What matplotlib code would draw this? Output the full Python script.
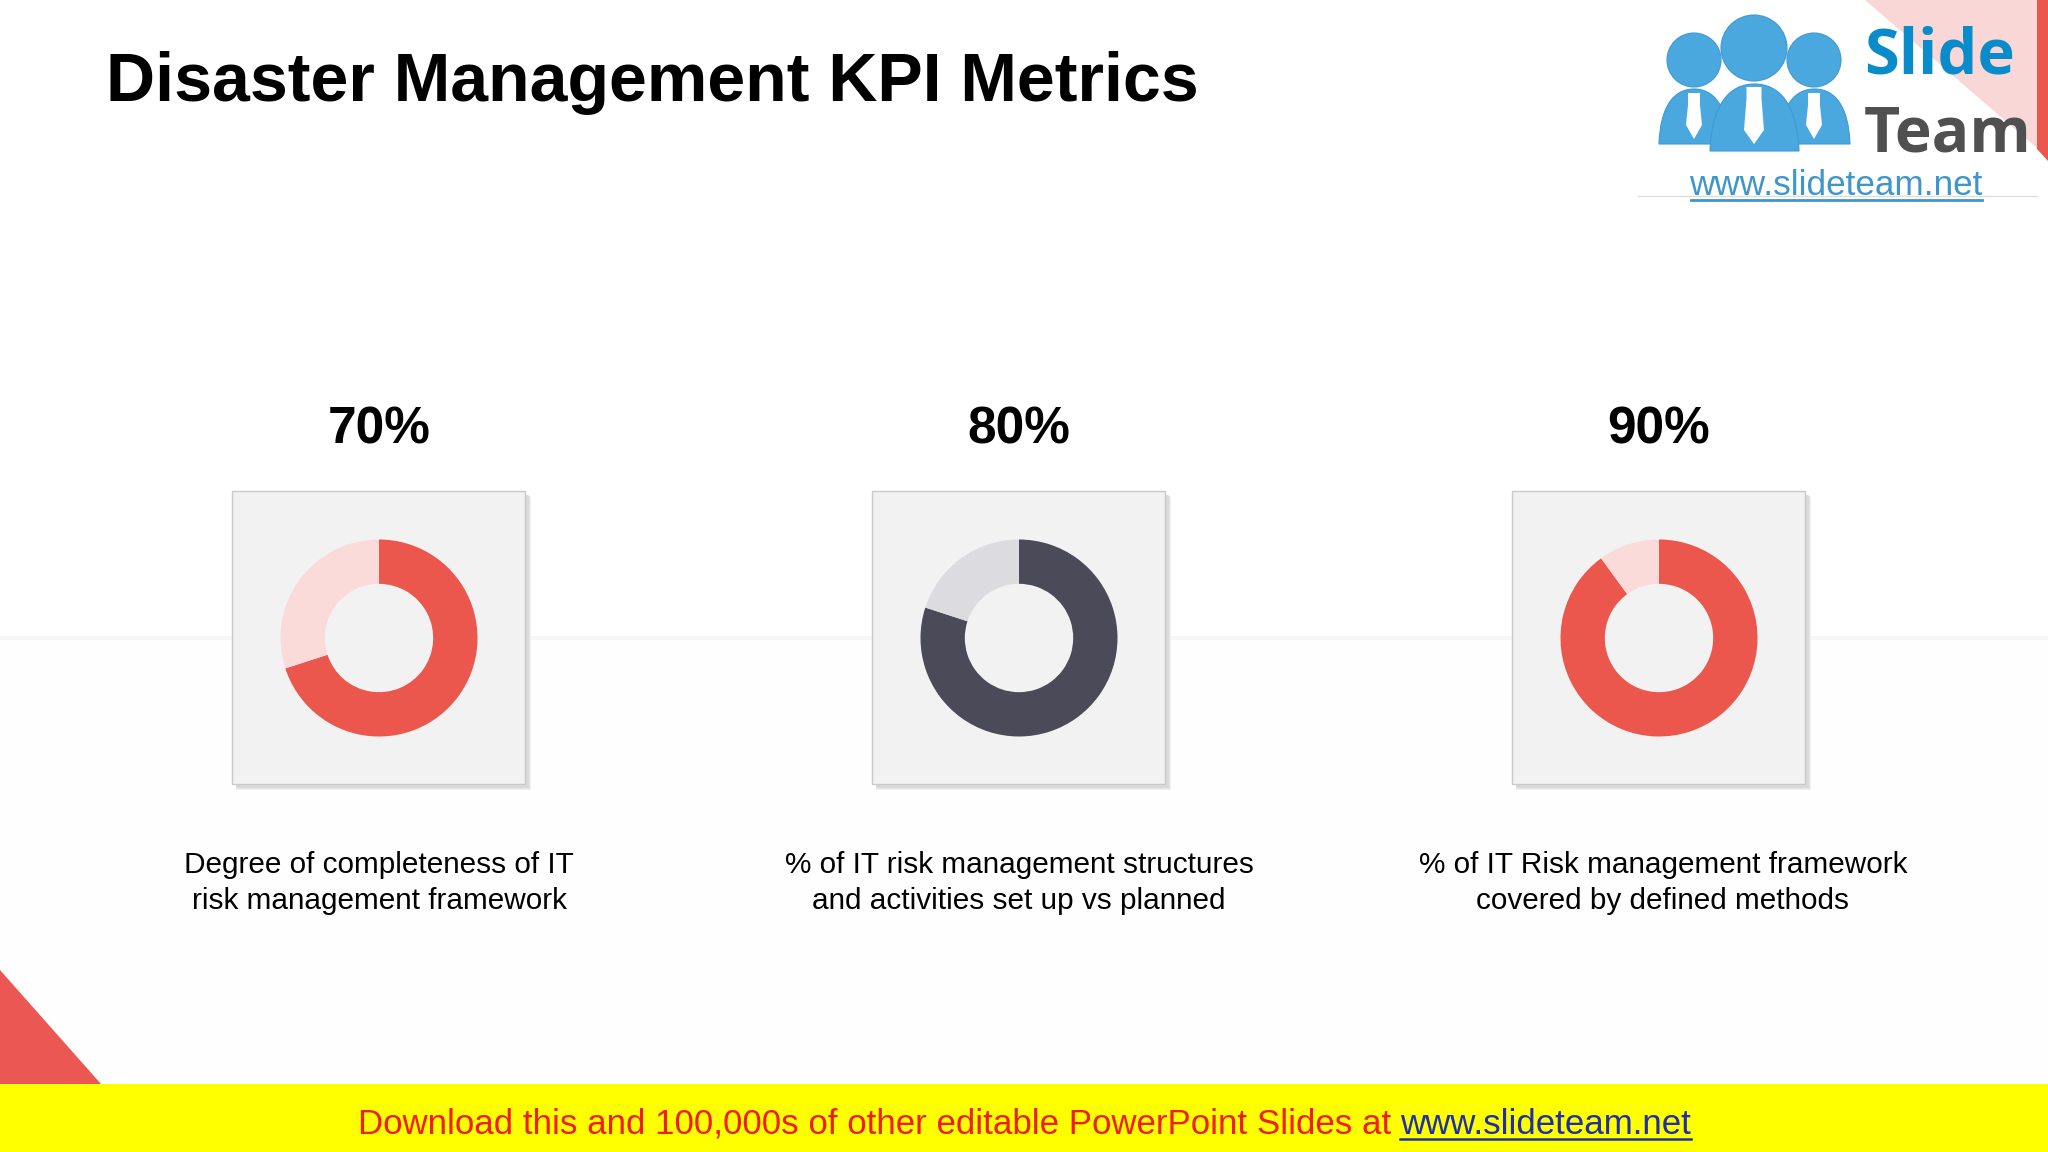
import matplotlib
matplotlib.use("Agg")
import matplotlib.pyplot as plt
from matplotlib.patches import Rectangle, Polygon, Circle, PathPatch
from matplotlib.path import Path

W, H = 2048, 1152
title = "Disaster Management KPI Metrics"
kpi_values = [70, 80, 90]
kpi_labels = ["70%", "80%", "90%"]
kpi_captions = [
    "Degree of completeness of IT\nrisk management framework",
    "% of IT risk management structures\nand activities set up vs planned",
    "% of IT Risk management framework\ncovered by defined methods",
]
caption_shift = [0, 0, 4]
main_colors = ["#EB564D", "#4B4A58", "#EB564D"]
rest_colors = ["#FBDBDA", "#DBDBE0", "#FBDBDA"]
centers_x = [379, 1019, 1659]
footer_red = "Download this and 100,000s of other editable PowerPoint Slides at"
footer_link = "www.slideteam.net"

FONT = "Liberation Sans"
fig = plt.figure(figsize=(W / 100, H / 100), dpi=100, facecolor="white")
bg = fig.add_axes([0, 0, 1, 1])
bg.set_xlim(0, W)
bg.set_ylim(H, 0)
bg.axis("off")

# slide background
bg.add_patch(Rectangle((0, 640), W, 444, fc="#FEFEFE", ec="none", zorder=0))
bg.plot([0, W], [638, 638], color="#F6F6F6", lw=3, zorder=1)

# decorative triangles and footer
bg.add_patch(Polygon([(1865, 0), (2037, 0), (2037, 148)], fc="#F8D7D6", ec="none", zorder=1))
bg.add_patch(Polygon([(2037, 0), (2048, 0), (2048, 161), (2037, 149)], fc="#EB564D", ec="none", zorder=1))
bg.add_patch(Polygon([(0, 970), (101, 1084), (0, 1084)], fc="#EB5753", ec="none", zorder=1))
bg.add_patch(Rectangle((0, 1084), W, 68, fc="#FFFF00", ec="none", zorder=1))

bg.text(106, 101, title, fontsize=49, fontweight="bold", family=FONT, color="black", ha="left", va="baseline", zorder=5)

# logo
BLUE = "#4AA8DF"
EDGE = "#4099D2"
def body(x0, x1, top, bottom, z):
    xc = (x0 + x1) / 2
    w = x1 - x0
    verts = [(x0, bottom), (x0 + 0.02 * w, top + 0.30 * (bottom - top)), (x0 + 0.22 * w, top), (xc, top),
             (x1 - 0.22 * w, top), (x1 - 0.02 * w, top + 0.30 * (bottom - top)), (x1, bottom), (x0, bottom)]
    codes = [Path.MOVETO, Path.CURVE4, Path.CURVE4, Path.CURVE4, Path.CURVE4, Path.CURVE4, Path.CURVE4, Path.CLOSEPOLY]
    bg.add_patch(PathPatch(Path(verts, codes), fc=BLUE, ec=EDGE, lw=0.8, zorder=z))

def tie(xc, top, bottom, hw, z):
    bg.add_patch(Polygon([(xc - hw * 0.75, top), (xc + hw * 0.75, top), (xc + hw * 0.75, top + 12),
                          (xc + hw, bottom - 14), (xc, bottom), (xc - hw, bottom - 14), (xc - hw * 0.75, top + 12)],
                         fc="white", ec="none", zorder=z))

bg.add_patch(Circle((1694, 60), 27, fc=BLUE, ec=EDGE, lw=0.8, zorder=3))
bg.add_patch(Circle((1814, 60), 27, fc=BLUE, ec=EDGE, lw=0.8, zorder=3))
bg.add_patch(Circle((1754, 48), 33, fc=BLUE, ec=EDGE, lw=0.8, zorder=3.5))
body(1659, 1729, 89, 144, 3)
body(1779, 1850, 89, 144, 3)
body(1710, 1799, 84, 151, 3.6)
tie(1694, 93, 139, 8, 3.2)
tie(1814, 93, 139, 8, 3.2)
tie(1754, 87, 144, 10, 3.8)
bg.text(1864, 74, "Slide", fontsize=45.5, fontweight="bold", family="Open Sans", color="#0A8CCB", ha="left", va="baseline", zorder=5)
bg.text(1864, 151, "Team", fontsize=45, fontweight="bold", family="Open Sans", color="#505050", ha="left", va="baseline", zorder=5)
bg.text(1836, 195, "www.slideteam.net", fontsize=25.3, family=FONT, color="#3F97C9", ha="center", va="baseline", zorder=5)
bg.plot([1691, 1982], [200, 200], color="#3F97C9", lw=2, zorder=5)
bg.plot([1638, 2037], [196, 196], color="#DDDDDD", lw=1, zorder=4)

R, CARD = 98.5, 146.5
for i, v in enumerate(kpi_values):
    cx = centers_x[i]
    card_x, card_y = cx - CARD - 1, 638 - CARD - 1
    for off, shade in [(6, "#F0F0F0"), (5, "#E6E6E6"), (4, "#DADADA")]:
        bg.add_patch(Rectangle((card_x + 4, card_y + off), 2 * CARD + off - 4, 2 * CARD, fc=shade, ec="none", zorder=2))
    bg.add_patch(Rectangle((card_x, card_y), 2 * CARD, 2 * CARD, fc="#F2F2F3", ec="#C9C9C9", lw=1, zorder=3))
    bg.text(cx, 443, kpi_labels[i], fontsize=37, fontweight="bold", family=FONT, color="black", ha="center", va="baseline", zorder=5)
    line1, line2 = kpi_captions[i].split("\n")
    bg.text(cx + caption_shift[i], 862, line1, fontsize=21.4, family=FONT, color="black", ha="center", va="center_baseline", zorder=5)
    bg.text(cx + caption_shift[i], 898, line2, fontsize=21.4, family=FONT, color="black", ha="center", va="center_baseline", zorder=5)
    size = 2 * R + 4
    ax = fig.add_axes([(cx - size / 2) / W, 1 - (638 + size / 2) / H, size / W, size / H])
    ax.pie([v, 100 - v], colors=[main_colors[i], rest_colors[i]], startangle=90, counterclock=False,
           radius=1, wedgeprops={"width": 0.45, "linewidth": 0})
    lim = size / (2 * R)
    ax.set_xlim(-lim, lim)
    ax.set_ylim(-lim, lim)
    ax.patch.set_visible(False)

bg.text(358, 1134, footer_red, fontsize=25.12, family=FONT, color="#F01E0F", ha="left", va="baseline", zorder=5)
bg.text(1400, 1134, footer_link, fontsize=25.1, family=FONT, color="#1F2FA8", ha="left", va="baseline", zorder=5)
bg.plot([1400, 1691], [1139, 1139], color="#1F2FA8", lw=1.8, zorder=5)

fig.savefig("out.png", dpi=100)
